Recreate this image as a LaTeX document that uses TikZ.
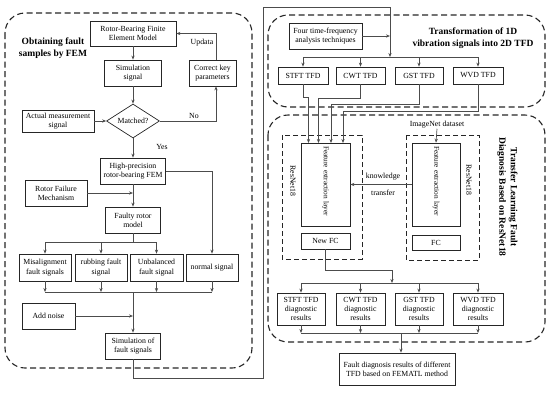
\documentclass[tikz,border=0pt]{standalone}
\usepackage{fontspec}
\setmainfont{Liberation Serif}
\usetikzlibrary{shapes.geometric,arrows.meta}
\begin{document}
\begin{tikzpicture}[x=1pt,y=-1pt,
 box/.style={draw=black!85,line width=0.7pt,inner sep=0pt,align=center,font=\fontsize{7.8}{9.3}\selectfont},
 sz/.style 2 args={minimum width=#1pt,minimum height=#2pt},
 lbl/.style={inner sep=0pt,align=center,font=\fontsize{7.8}{9.3}\selectfont},
 ttl/.style={inner sep=0pt,align=center,font=\fontsize{9.5}{11.5}\selectfont\bfseries},
 region/.style={draw=black!85,line width=1.1pt,dash pattern=on 6pt off 3.5pt,rounded corners=20pt},
 innerbox/.style={draw=black!85,line width=1pt,dash pattern=on 5pt off 3pt},
 conn/.style={draw=black!70,line width=0.7pt},
 arr/.style={conn,-{Stealth[length=4pt,width=3.2pt]}},
]
\useasboundingbox (0,0) rectangle (550,400);
% regions
\draw[region] (5,13) rectangle (252,368);
\draw[region] (268,15) rectangle (545,107);
\draw[region] (268,115) rectangle (545,342);
\draw[innerbox] (282,135) rectangle (362,259);
\draw[innerbox] (406,135) rectangle (479,260);

% titles
\node[ttl] (t1) at (53,48) {Obtaining fault\\samples by FEM};
\node[ttl] (t2) at (473,38) {Transformation of 1D\\vibration signals into 2D TFD};
\node[ttl,rotate=-90] (t3) at (507.5,197) {Transfer Learning Fault\\Diagnosis Based on ResNet18};

% left part
\node[box,sz={86}{25}] (fem) at (133,33.5) {Rotor-Bearing Finite\\Element Model};
\node[box,sz={57}{26}] (sim) at (133,73) {Simulation\\signal};
\node[box,sz={47}{26}] (corr) at (212.5,73) {Correct key\\parameters};
\node[box,diamond,aspect=1.56,minimum width=53pt,minimum height=34pt] (match) at (133,121) {Matched?};
\node[box,sz={72}{22}] (actual) at (58,121) {Actual measurement\\signal};
\node[box,sz={65}{26}] (hp) at (133,171) {High-precision\\rotor-bearing FEM};
\node[box,sz={62}{26}] (rfm) at (56,193) {Rotor Failure\\Mechanism};
\node[box,sz={55}{26}] (faulty) at (133,220) {Faulty rotor\\model};
\node[box,sz={52}{27}] (mis) at (45,267.5) {Misalignment\\fault signals};
\node[box,sz={52}{27}] (rub) at (101,267.5) {rubbing fault\\signal};
\node[box,sz={53}{27}] (unb) at (156.5,267.5) {Unbalanced\\fault signal};
\node[box,sz={52}{27}] (norm) at (212,267.5) {normal signal};
\node[box,sz={53}{26}] (noise) at (48.5,316) {Add noise};
\node[box,sz={55}{26}] (simf) at (133,346) {Simulation of\\fault signals};

\node[lbl] (lupd) at (202,43) {Updata};
\node[lbl] (lno) at (194,116) {No};
\node[lbl] (lyes) at (162,147) {Yes};

\draw[arr] (fem) -- (sim);
\draw[arr] (sim) -- (match);
\draw[arr] (actual) -- (match);
\draw[arr] (match.east) -| ([xshift=3.5pt]corr.south);
\draw[arr] ([xshift=3.5pt]corr.north) |- (fem.east);
\draw[arr] (match) -- (hp);
\draw[arr] (hp) -- (faulty);
\coordinate (rfmj) at (133,193);
\draw[arr] (rfm.east) -- (rfmj);
\draw[arr] (hp.east) -| (norm.north);
\coordinate (b1) at (133,242);
\draw[conn] (faulty.south) -- (b1);
\draw[arr] (b1) -| (mis.north);
\draw[arr] (b1) -| (rub.north);
\draw[arr] (b1) -| (unb.north);
\coordinate (m1) at (45,292);
\coordinate (m2) at (101,292);
\coordinate (m3) at (156.5,292);
\coordinate (m4) at (212,292);
\coordinate (mj) at (133,292);
\draw[arr] (mis.south) -- (m1);
\draw[arr] (rub.south) -- (m2);
\draw[arr] (unb.south) -- (m3);
\draw[arr] (norm.south) -- (m4);
\draw[conn] (m1) -- (m4);
\draw[arr] (mj) -- (simf.north);
\coordinate (nj) at (133,316);
\draw[arr] (noise.east) -- (nj);

% top right
\node[box,sz={73}{26}] (four) at (325.5,36) {Four time-frequency\\analysis techniques};
\node[box,sz={50}{17}] (stft) at (303,75.5) {STFT TFD};
\node[box,sz={49}{17}] (cwt) at (360.5,75.5) {CWT TFD};
\node[box,sz={48}{17}] (gst) at (419,75.5) {GST TFD};
\node[box,sz={50}{17}] (wvd) at (478,75.5) {WVD TFD};

\coordinate (c1) at (133,378);
\coordinate (c2) at (263,378);
\coordinate (c3) at (263,7);
\coordinate (c4) at (390,7);
\coordinate (tj) at (390,57);
\coordinate (fj) at (390,36);
\draw[arr] (simf.south) -- (c1) -- (c2) -- (c3) -- (c4) -- (tj);
\draw[arr] (four.east) -- (fj);
\draw[arr] (tj) -| (stft.north);
\draw[arr] (tj) -| (cwt.north);
\draw[arr] (tj) -| (gst.north);
\draw[arr] (tj) -| (wvd.north);

% bottom right
\node[lbl] (imgnet) at (437,125) {ImageNet dataset};
\node[box,sz={49}{83}] (lfe) at (325.5,184.5) {};
\node[box,sz={49}{16}] (lfc) at (325.5,241) {New FC};
\node[box,sz={48}{83}] (rfe) at (436,184.5) {};
\node[box,sz={48}{15}] (rfc) at (436,242.5) {FC};
\node[lbl,rotate=-90,font=\fontsize{7.3}{9}\selectfont] (lfet) at (325.5,181) {Feature extraction layer};
\node[lbl,rotate=-90,font=\fontsize{7.3}{9}\selectfont] (rfet) at (436,181) {Feature extraction layer};
\node[lbl,rotate=-90] (resl) at (293,181) {ResNet18};
\node[lbl,rotate=-90] (resr) at (469,180) {ResNet18};
\node[lbl] (lkn) at (383,177) {knowledge};
\node[lbl] (ltr) at (383,193) {transfer};

\draw[arr] (imgnet.south) -- (rfe.north);
\draw[arr] (rfe.west) -- (lfe.east);

\draw[conn] (stft.south) -- (303,97) -- (308.5,97);
\draw[arr] (308.5,97) -- (308.5,143);
\draw[conn] (cwt.south) -- (360.5,98) -- (318.5,98);
\draw[arr] (318.5,98) -- (318.5,143);
\draw[conn] (gst.south) -- (419,104) -- (331,104);
\draw[arr] (331,104) -- (331,143);
\draw[conn] (wvd.south) -- (478,111) -- (343,111);
\draw[arr] (343,111) -- (343,143);

\node[box,sz={48}{32}] (sd) at (301,309) {STFT TFD\\diagnostic\\results};
\node[box,sz={49}{32}] (cd) at (360.5,309) {CWT TFD\\diagnostic\\results};
\node[box,sz={48}{32}] (gd) at (419,309) {GST TFD\\diagnostic\\results};
\node[box,sz={50}{32}] (wd) at (478,309) {WVD TFD\\diagnostic\\results};
\node[box,sz={116}{32}] (final) at (397,369) {Fault diagnosis results of different\\TFD based on FEMATL method};

\coordinate (f1) at (325.5,270);
\coordinate (f2) at (392,270);
\coordinate (dj) at (392,283);
\draw[arr] (lfc.south) -- (f1) -- (f2) -- (dj);
\draw[arr] (dj) -| (sd.north);
\draw[arr] (dj) -| (cd.north);
\draw[arr] (dj) -| (gd.north);
\draw[arr] (dj) -| (wd.north);
\coordinate (e1) at (301,333);
\coordinate (e2) at (360.5,333);
\coordinate (e3) at (419,333);
\coordinate (e4) at (478,333);
\coordinate (ej) at (401,333);
\draw[arr] (sd.south) -- (e1);
\draw[arr] (cd.south) -- (e2);
\draw[arr] (gd.south) -- (e3);
\draw[arr] (wd.south) -- (e4);
\draw[conn] (e1) -- (e4);
\draw[arr] (ej) -- (ej |- final.north);
\end{tikzpicture}
\end{document}
